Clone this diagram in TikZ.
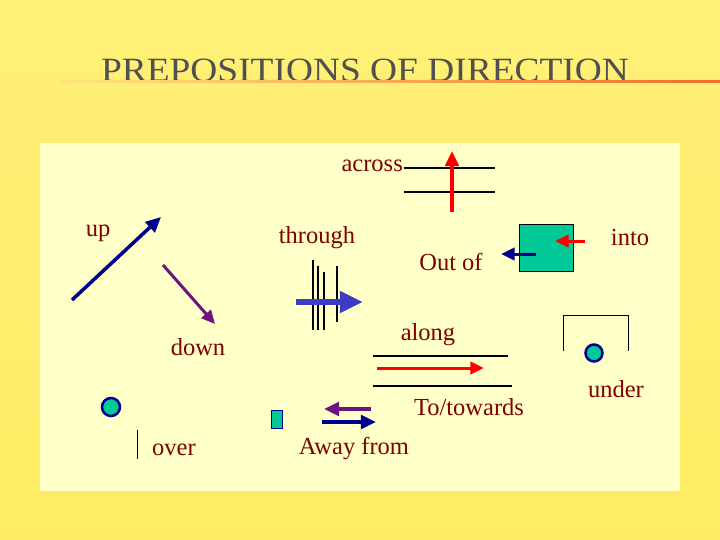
\documentclass[tikz,border=0pt]{standalone}
\usepackage{fontspec}
\setmainfont{Liberation Serif}
\usetikzlibrary{arrows.meta}
\definecolor{txt}{RGB}{128,0,0}
\definecolor{navy}{RGB}{0,0,140}
\definecolor{teal2}{RGB}{0,200,150}
\definecolor{purp}{RGB}{110,20,130}
\definecolor{blu}{RGB}{60,60,200}
\definecolor{bgtop}{RGB}{255,240,120}
\definecolor{bgbot}{RGB}{255,236,100}
\definecolor{panel}{RGB}{255,255,200}
\definecolor{ttl}{RGB}{80,80,80}
\definecolor{ulA}{RGB}{255,230,120}
\definecolor{ulB}{RGB}{240,110,40}
\begin{document}
\begin{tikzpicture}[x=1pt,y=-1pt,
 lbl/.style={text=txt,font=\fontsize{24.5}{24.5}\selectfont,inner sep=0pt},
 arr/.style={line width=#1,-{Triangle[length=3.2*#1+4pt,width=2.8*#1+4pt]}},
 bl/.style={draw=black,line width=2.6pt}]
\useasboundingbox (0,0) rectangle (720,540);
\shade[top color=bgtop,bottom color=bgbot] (0,0) rectangle (720,540);
\fill[panel] (40,143) rectangle (680,491);
\node[text=ttl,font=\fontsize{34}{34}\selectfont,inner sep=0pt,xscale=1.1] (title) at (365,70) {PREPOSITIONS OF DIRECTION};
\shade[left color=ulA,right color=ulB] (60,81) rectangle (720,83);
% across
\node[lbl,anchor=east] (across) at (403,166) {across};
\coordinate (a1) at (404,168); \coordinate (a2) at (495,168);
\coordinate (a3) at (404,192); \coordinate (a4) at (495,192);
\draw[bl] (a1)--(a2); \draw[bl] (a3)--(a4);
\coordinate (r1) at (452,212); \coordinate (r2) at (452,151);
\draw[red,arr=3.5pt] (r1)--(r2);
% up / down
\node[lbl] (up) at (98,233) {up};
\coordinate (u1) at (72,300); \coordinate (u2) at (161,217);
\draw[navy,arr=3.5pt] (u1)--(u2);
\coordinate (d1) at (163,265); \coordinate (d2) at (215,324);
\draw[purp,arr=3pt] (d1)--(d2);
\node[lbl] (down) at (198,347) {down};
% through
\node[lbl] (through) at (317,238) {through};
\foreach \x/\t/\b in {313/260/330,318/266/330,324/272/330,337/266/322} \draw[black,line width=2.4pt] (\x,\t)--(\x,\b);
\coordinate (t1) at (296,302); \coordinate (t2) at (363,302);
\draw[blu,arr=6pt] (t1)--(t2);
% into / out of
\node[lbl] (outof) at (451,262) {Out of};
\node[draw=black,fill=teal2,minimum width=54pt,minimum height=47pt,inner sep=0pt] (box) at (546,248) {};
\node[lbl] (into) at (630,238) {into};
\coordinate (i1) at (585,241); \coordinate (i2) at (555,241);
\draw[red,arr=3pt] (i1)--(i2);
\coordinate (o1) at (536,254); \coordinate (o2) at (501,254);
\draw[navy,arr=3pt] (o1)--(o2);
% along
\node[lbl] (along) at (428,335) {along};
\coordinate (l1) at (373,356); \coordinate (l2) at (508,356);
\coordinate (l3) at (373,386); \coordinate (l4) at (512,386);
\draw[bl] (l1)--(l2); \draw[bl] (l3)--(l4);
\coordinate (g1) at (377,368); \coordinate (g2) at (484,368);
\draw[red,arr=3pt] (g1)--(g2);
\node[lbl] (tow) at (469,407) {To/towards};
% under
\coordinate (b1) at (563,351); \coordinate (b2) at (563,315);
\coordinate (b3) at (628,315); \coordinate (b4) at (628,351);
\draw[black,line width=0.8pt] (b1)--(b2)--(b3)--(b4);
\node[circle,draw=navy,line width=2.5pt,fill=teal2,minimum size=17pt,inner sep=0pt] (c1) at (594,353) {};
\node[lbl] (under) at (616,389) {under};
% over
\node[circle,draw=navy,line width=2.5pt,fill=teal2,minimum size=18pt,inner sep=0pt] (c2) at (111,407) {};
\coordinate (v1) at (137,430); \coordinate (v2) at (137,459);
\draw[black,line width=0.8pt] (v1)--(v2);
\node[lbl] (over) at (174,450) {over};
% away from
\node[draw=navy,fill=teal2,line width=1pt,minimum width=11pt,minimum height=18pt,inner sep=0pt] (sq) at (277,419) {};
\coordinate (p1) at (371,409); \coordinate (p2) at (324,409);
\draw[purp,arr=3.5pt] (p1)--(p2);
\coordinate (n1) at (322,422); \coordinate (n2) at (376,422);
\draw[navy,arr=3.5pt] (n1)--(n2);
\node[lbl] (away) at (354,449) {Away from};
\end{tikzpicture}
\end{document}
